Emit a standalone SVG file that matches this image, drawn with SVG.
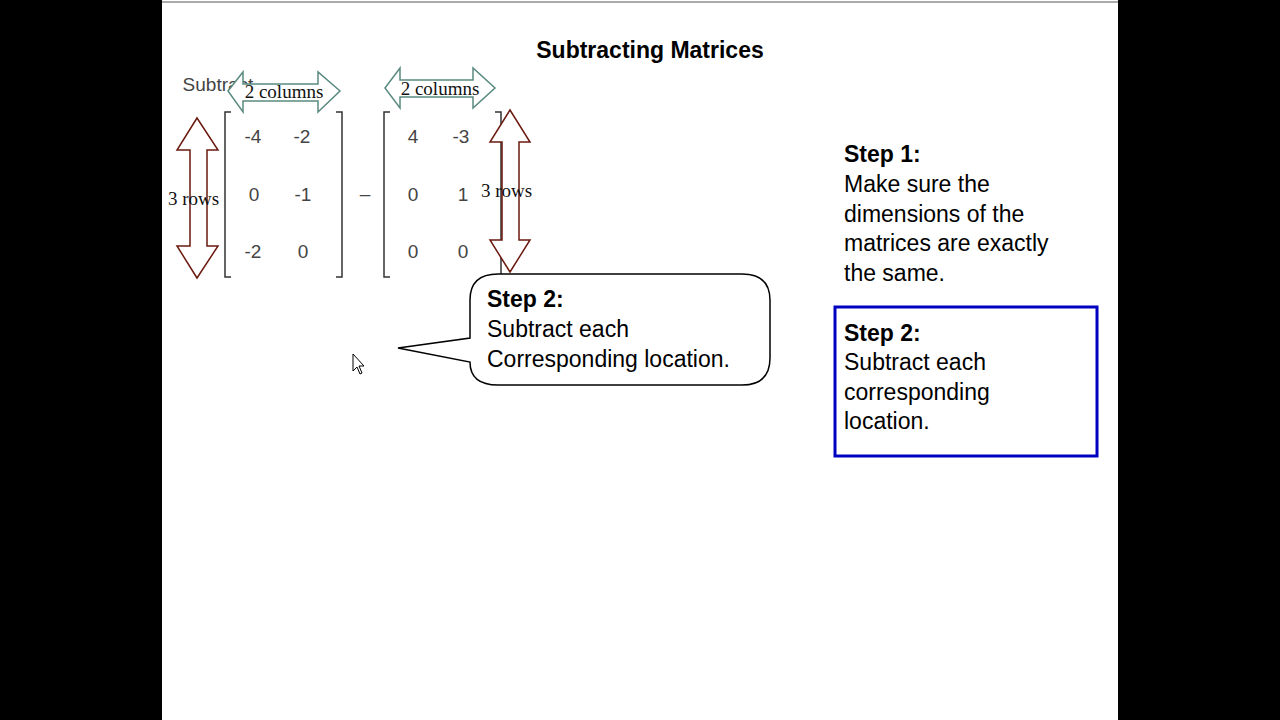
<svg xmlns="http://www.w3.org/2000/svg" width="1280" height="720" viewBox="0 0 1280 720">
<style>
.m{font-family:"Liberation Sans",Arial,sans-serif;font-size:19px;fill:#444;text-anchor:middle}
.s{font-family:"Liberation Serif","Times New Roman",serif;font-size:19px;fill:#111}
.t{font-family:"Liberation Sans",Arial,sans-serif;font-size:23px;fill:#000}
.b{font-weight:bold}
.br{fill:none;stroke:#333;stroke-width:1.5}
.ga{fill:#fff;stroke:#5a8a80;stroke-width:1.5}
.ra{fill:#fff;stroke:#6b1a10;stroke-width:1.5}
</style>
<rect width="1280" height="720" fill="#000"/>
<rect x="162" y="0" width="956" height="720" fill="#fff"/>
<line x1="162" y1="2" x2="1118" y2="2" stroke="#aaa" stroke-width="2"/>
<text x="650" y="58" class="t b" font-size="28" text-anchor="middle">Subtracting Matrices</text>
<g id="matrixA">
<text x="218" y="91" class="m" text-anchor="start" fill="#666">Subtract</text>
<path class="br" d="M231,112 H225 V277 H231 M336,112 H342 V277 H336"/>
<text x="253" y="143" class="m">-4</text><text x="302" y="143" class="m">-2</text>
<text x="254" y="201" class="m">0</text><text x="303" y="201" class="m">-1</text>
<text x="253" y="258" class="m">-2</text><text x="303" y="258" class="m">0</text>
</g>
<text x="365" y="200" class="m">–</text>
<g id="matrixB">
<path class="br" d="M390,112 H384 V277 H390 M495,112 H501 V277 H495"/>
<text x="413" y="143" class="m">4</text><text x="461" y="143" class="m">-3</text>
<text x="413" y="201" class="m">0</text><text x="463" y="201" class="m">1</text>
<text x="413" y="258" class="m">0</text><text x="463" y="258" class="m">0</text>
</g>
<g id="colsA"><path class="ga" d="M228,91 L243,72 V84 H318 V72 L340,91 L318,112 V101 H243 V112 Z"/><text x="284" y="98" class="s" text-anchor="middle">2 columns</text></g>
<g id="colsB"><path class="ga" d="M385,88 L400,68 V80 H473 V68 L495,88 L473,108 V97 H400 V108 Z"/><text x="440" y="95" class="s" text-anchor="middle">2 columns</text></g>
<g id="rowsA"><path class="ra" d="M197,118 L218,150 H207 V246 H218 L197,278 L177,246 H190 V150 H177 Z"/><text x="168" y="205" class="s">3 rows</text></g>
<g id="rowsB"><path class="ra" d="M510,110 L530,142 H519 V240 H530 L510,272 L490,240 H502 V142 H490 Z"/><text x="481" y="197" class="s">3 rows</text></g>
<g id="callout">
<path d="M498,274 H742 Q770,274 770,300 V358 Q770,385 742,385 H498 Q470,385 470,362 L398,348 L470,338 V300 Q470,274 498,274 Z" fill="#fff" stroke="#000" stroke-width="1.5"/>
<text x="487" y="307" class="t b">Step 2:</text>
<text x="487" y="337" class="t">Subtract each</text>
<text x="487" y="367" class="t">Corresponding location.</text>
</g>
<g id="step1">
<text x="844" y="162" class="t b">Step 1:</text>
<text x="844" y="192" class="t">Make sure the</text>
<text x="844" y="222" class="t">dimensions of the</text>
<text x="844" y="251" class="t">matrices are exactly</text>
<text x="844" y="281" class="t">the same.</text>
</g>
<g id="step2">
<rect x="835" y="307" width="262" height="149" fill="none" stroke="#0000c0" stroke-width="3"/>
<text x="844" y="341" class="t b">Step 2:</text>
<text x="844" y="370" class="t">Subtract each</text>
<text x="844" y="400" class="t">corresponding</text>
<text x="844" y="429" class="t">location.</text>
</g>
<path d="M353,354 V371 L357,367 L360,374 L362,373 L359,366 L364,366 Z" fill="#fff" stroke="#000" stroke-width="1"/>
</svg>
